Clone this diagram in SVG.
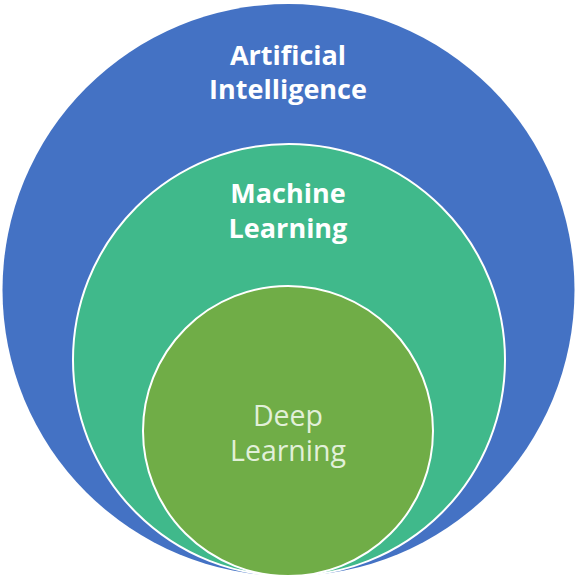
<svg xmlns="http://www.w3.org/2000/svg" width="576" height="576" viewBox="0 0 576 576">
<style>
.ring{stroke:#ffffff;stroke-width:2}
.lbl{font-family:"Open Sans","Noto Sans","Liberation Sans",sans-serif;text-anchor:middle}
.b{font-weight:bold;fill:#ffffff;font-size:27px}
.n{fill:#e2f0d9;font-size:28.5px}
</style>
<rect width="576" height="576" fill="#ffffff"/>
<g id="ai">
<circle cx="288.5" cy="290" r="286" fill="#4472c4"/>
<text class="lbl b" x="288" y="65">Artificial</text>
<text class="lbl b" x="288" y="98.5">Intelligence</text>
</g>
<g id="ml">
<circle class="ring" cx="289" cy="360" r="216" fill="#40b98b"/>
<text class="lbl b" x="288" y="203">Machine</text>
<text class="lbl b" x="288" y="238">Learning</text>
</g>
<g id="dl">
<circle class="ring" cx="288" cy="431" r="145" fill="#70ad47"/>
<text class="lbl n" x="288" y="426">Deep</text>
<text class="lbl n" x="288" y="461">Learning</text>
</g>
<g id="connectors"></g>
</svg>
